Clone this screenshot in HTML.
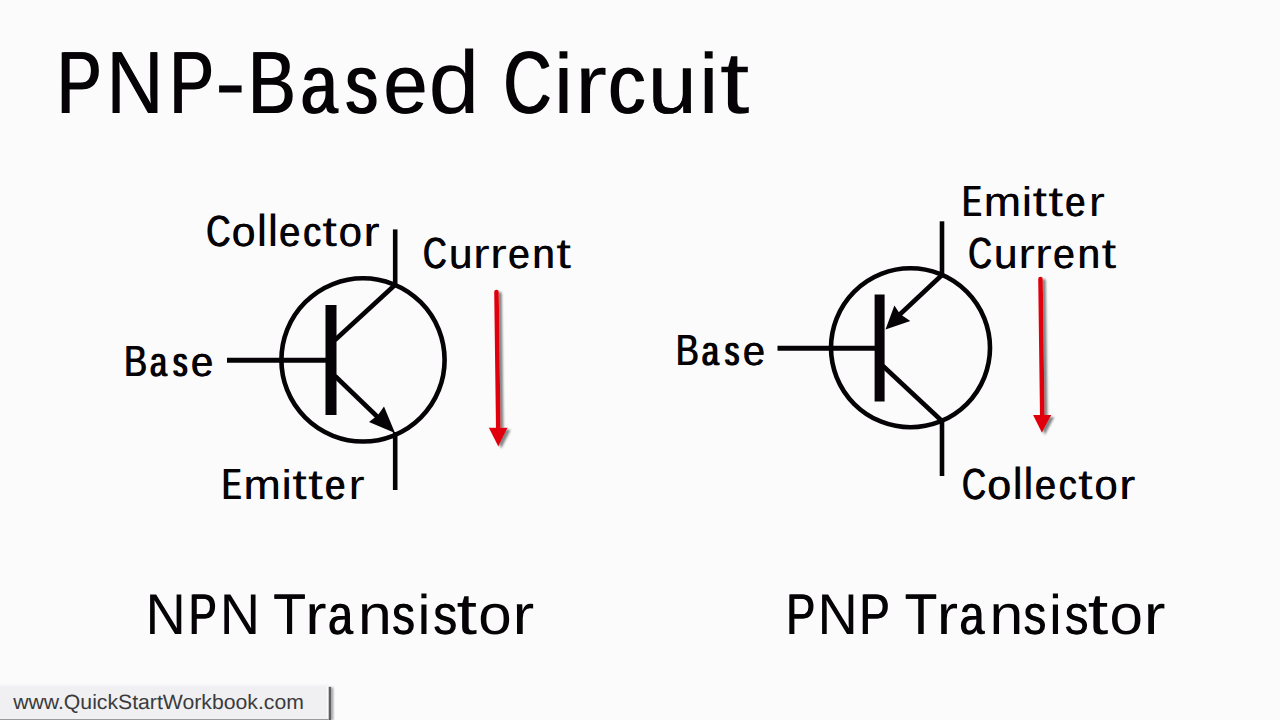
<!DOCTYPE html>
<html><head><meta charset="utf-8"><style>
html,body{margin:0;padding:0;background:#fcfbfc;}
body{width:1280px;height:720px;overflow:hidden;position:relative;}
svg{position:absolute;left:0;top:0;}
text{font-family:"Liberation Sans",sans-serif;fill:#050305;text-rendering:geometricPrecision;}
</style></head><body>
<svg width="1280" height="720" viewBox="0 0 1280 720">
<defs>
<filter id="sh" x="-50%" y="-50%" width="200%" height="200%">
<feGaussianBlur in="SourceAlpha" stdDeviation="1.2"/>
<feOffset dx="3" dy="2" result="b"/>
<feFlood flood-color="#6e7272" flood-opacity="0.85"/>
<feComposite in2="b" operator="in"/>
<feMerge><feMergeNode/><feMergeNode in="SourceGraphic"/></feMerge>
</filter>
<filter id="bl" x="-50%" y="-50%" width="200%" height="200%"><feGaussianBlur stdDeviation="0.8"/></filter>
<linearGradient id="wmg" x1="0" y1="0" x2="0" y2="1">
<stop offset="0" stop-color="#f8f7f9"/><stop offset="0.1" stop-color="#f0eff1"/><stop offset="1" stop-color="#f0eff1"/>
</linearGradient>
</defs>
<rect width="1280" height="720" fill="#fcfbfc"/>
<!-- NPN -->
<g stroke="#050305" fill="none" stroke-width="4.6">
<circle cx="363" cy="359.9" r="81.6"/>
<line x1="227" y1="360.2" x2="326" y2="360.2" stroke-width="5"/>
<line x1="395.2" y1="229.4" x2="395.2" y2="286"/>
<line x1="395.2" y1="432" x2="395.2" y2="490"/>
<line x1="335" y1="340" x2="396" y2="284"/>
<line x1="335" y1="376" x2="388" y2="427"/>
</g>
<rect x="325.5" y="305" width="11" height="110" fill="#050305"/>
<polygon points="395,433 384,406.5 378,415 369,422" fill="#050305"/>
<!-- PNP -->
<g stroke="#050305" fill="none" stroke-width="4.6">
<circle cx="910.5" cy="347.8" r="79.5"/>
<line x1="777.5" y1="348.2" x2="876" y2="348.2" stroke-width="5"/>
<line x1="942" y1="221.3" x2="942" y2="277"/>
<line x1="942" y1="419" x2="942" y2="476"/>
<line x1="943" y1="274" x2="895" y2="319"/>
<line x1="883" y1="366" x2="943" y2="422"/>
</g>
<rect x="874.6" y="294.5" width="10" height="107" fill="#050305"/>
<polygon points="885.5,329.5 894.4,305.6 900,314 910.3,321.1" fill="#050305"/>
<!-- red arrows -->
<g filter="url(#sh)" fill="#e0050f">
<path d="M496.5 292 L498.3 430" stroke="#e0050f" stroke-width="4.6" stroke-linecap="round"/>
<polygon points="488.9,427.7 507.6,427.7 498.3,446.5"/>
</g>
<g filter="url(#sh)" fill="#e0050f">
<path d="M1040.5 279 L1042.3 417" stroke="#e0050f" stroke-width="4.6" stroke-linecap="round"/>
<polygon points="1033.1,415 1051.3,415 1041.9,432.8"/>
</g>
<!-- watermark -->
<rect x="0" y="684" width="329" height="36" fill="url(#wmg)"/>
<rect x="326.8" y="686" width="1.8" height="33" fill="#fbfafc"/>
<rect x="0" y="717.8" width="328.6" height="1.1" fill="#fbfafc"/>
<rect x="330.6" y="687.5" width="2.6" height="33" fill="#98989a" filter="url(#bl)"/>
<rect x="328.7" y="686.8" width="2.4" height="33.2" fill="#5f5e62"/>
<rect x="0" y="718.9" width="328.7" height="1.1" fill="#9a9a9c"/>
<text transform="translate(56.34 112.80) scale(0.7350 0.9765)" font-size="90.5">P</text>
<text transform="translate(58.04 112.80) scale(0.7350 0.9765)" font-size="90.5">P</text>
<text transform="translate(106.08 112.80) scale(0.8786 0.9765)" font-size="90.5">N</text>
<text transform="translate(106.56 112.80) scale(0.8786 0.9765)" font-size="90.5">N</text>
<text transform="translate(168.64 112.80) scale(0.7350 0.9765)" font-size="90.5">P</text>
<text transform="translate(170.34 112.80) scale(0.7350 0.9765)" font-size="90.5">P</text>
<text transform="translate(214.91 112.80) scale(1.0183 1.0000)" font-size="90.5">-</text>
<text transform="translate(247.29 112.80) scale(0.7954 0.9765)" font-size="90.5">B</text>
<text transform="translate(248.48 112.80) scale(0.7954 0.9765)" font-size="90.5">B</text>
<text transform="translate(299.69 112.80) scale(0.7318 0.9307)" font-size="90.5">a</text>
<text transform="translate(301.77 112.80) scale(0.7318 0.9307)" font-size="90.5">a</text>
<text transform="translate(344.61 112.80) scale(0.7110 0.9307)" font-size="90.5">s</text>
<text transform="translate(346.85 112.80) scale(0.7110 0.9307)" font-size="90.5">s</text>
<text transform="translate(383.04 112.80) scale(0.8751 0.9307)" font-size="90.5">e</text>
<text transform="translate(383.98 112.80) scale(0.8751 0.9307)" font-size="90.5">e</text>
<text transform="translate(428.46 112.80) scale(1.0099 0.9836)" font-size="90.5">d</text>
<text transform="translate(502.73 112.80) scale(0.7325 0.9765)" font-size="90.5">C</text>
<text transform="translate(504.45 112.80) scale(0.7325 0.9765)" font-size="90.5">C</text>
<text transform="translate(553.49 112.80) scale(0.9932 0.9409)" font-size="90.5">i</text>
<text transform="translate(574.85 112.80) scale(1.0740 0.9307)" font-size="90.5">r</text>
<text transform="translate(607.53 112.80) scale(0.8241 0.9307)" font-size="90.5">c</text>
<text transform="translate(608.88 112.80) scale(0.8241 0.9307)" font-size="90.5">c</text>
<text transform="translate(647.68 112.80) scale(0.9741 0.9307)" font-size="90.5">u</text>
<text transform="translate(647.83 112.80) scale(0.9741 0.9307)" font-size="90.5">u</text>
<text transform="translate(698.74 112.80) scale(0.9932 0.9409)" font-size="90.5">i</text>
<text transform="translate(719.78 112.80) scale(1.1856 0.9691)" font-size="90.5">t</text>
<text transform="translate(145.62 633.70) scale(0.9765 1.0063)" font-size="57.2">N</text>
<text transform="translate(188.18 633.70) scale(0.7288 1.0063)" font-size="57.2">P</text>
<text transform="translate(189.39 633.70) scale(0.7288 1.0063)" font-size="57.2">P</text>
<text transform="translate(219.82 633.70) scale(0.9765 1.0063)" font-size="57.2">N</text>
<text transform="translate(273.20 633.70) scale(0.9368 1.0063)" font-size="57.2">T</text>
<text transform="translate(273.30 633.70) scale(0.9368 1.0063)" font-size="57.2">T</text>
<text transform="translate(305.25 633.70) scale(1.1189 0.9828)" font-size="57.2">r</text>
<text transform="translate(327.61 633.70) scale(0.7760 0.9828)" font-size="57.2">a</text>
<text transform="translate(328.81 633.70) scale(0.7760 0.9828)" font-size="57.2">a</text>
<text transform="translate(358.07 633.70) scale(1.0618 0.9828)" font-size="57.2">n</text>
<text transform="translate(391.75 633.70) scale(0.7834 0.9828)" font-size="57.2">s</text>
<text transform="translate(392.91 633.70) scale(0.7834 0.9828)" font-size="57.2">s</text>
<text transform="translate(417.52 633.70) scale(1.0145 0.9771)" font-size="57.2">i</text>
<text transform="translate(432.99 633.70) scale(0.8235 0.9828)" font-size="57.2">s</text>
<text transform="translate(433.95 633.70) scale(0.8235 0.9828)" font-size="57.2">s</text>
<text transform="translate(456.38 633.70) scale(1.2939 1.0222)" font-size="57.2">t</text>
<text transform="translate(478.17 633.70) scale(1.0515 0.9828)" font-size="57.2">o</text>
<text transform="translate(512.47 633.70) scale(1.1399 0.9828)" font-size="57.2">r</text>
<text transform="translate(785.83 633.70) scale(0.7607 1.0063)" font-size="57.2">P</text>
<text transform="translate(786.87 633.70) scale(0.7607 1.0063)" font-size="57.2">P</text>
<text transform="translate(817.62 633.70) scale(0.9765 1.0063)" font-size="57.2">N</text>
<text transform="translate(859.08 633.70) scale(0.7926 1.0063)" font-size="57.2">P</text>
<text transform="translate(859.95 633.70) scale(0.7926 1.0063)" font-size="57.2">P</text>
<text transform="translate(904.60 633.70) scale(0.9368 1.0063)" font-size="57.2">T</text>
<text transform="translate(904.70 633.70) scale(0.9368 1.0063)" font-size="57.2">T</text>
<text transform="translate(936.65 633.70) scale(1.1189 0.9828)" font-size="57.2">r</text>
<text transform="translate(959.01 633.70) scale(0.7760 0.9828)" font-size="57.2">a</text>
<text transform="translate(960.21 633.70) scale(0.7760 0.9828)" font-size="57.2">a</text>
<text transform="translate(989.47 633.70) scale(1.0618 0.9828)" font-size="57.2">n</text>
<text transform="translate(1023.15 633.70) scale(0.7834 0.9828)" font-size="57.2">s</text>
<text transform="translate(1024.31 633.70) scale(0.7834 0.9828)" font-size="57.2">s</text>
<text transform="translate(1048.92 633.70) scale(1.0145 0.9771)" font-size="57.2">i</text>
<text transform="translate(1064.39 633.70) scale(0.8235 0.9828)" font-size="57.2">s</text>
<text transform="translate(1065.35 633.70) scale(0.8235 0.9828)" font-size="57.2">s</text>
<text transform="translate(1087.78 633.70) scale(1.2939 1.0222)" font-size="57.2">t</text>
<text transform="translate(1109.57 633.70) scale(1.0515 0.9828)" font-size="57.2">o</text>
<text transform="translate(1143.87 633.70) scale(1.1399 0.9828)" font-size="57.2">r</text>
<text transform="translate(205.71 245.90) scale(0.7541 0.9865)" font-size="44.2">C</text>
<text transform="translate(206.90 245.90) scale(0.7541 0.9865)" font-size="44.2">C</text>
<text transform="translate(231.41 245.90) scale(0.9656 0.9378)" font-size="44.2">o</text>
<text transform="translate(231.96 245.90) scale(0.9656 0.9378)" font-size="44.2">o</text>
<text transform="translate(256.50 245.90) scale(1.1069 1.0147)" font-size="44.2">l</text>
<text transform="translate(267.40 245.90) scale(1.1069 1.0147)" font-size="44.2">l</text>
<text transform="translate(278.80 245.90) scale(0.8543 0.9378)" font-size="44.2">e</text>
<text transform="translate(279.78 245.90) scale(0.8543 0.9378)" font-size="44.2">e</text>
<text transform="translate(302.70 245.90) scale(0.7975 0.9378)" font-size="44.2">c</text>
<text transform="translate(303.90 245.90) scale(0.7975 0.9378)" font-size="44.2">c</text>
<text transform="translate(322.19 245.90) scale(1.2049 0.9624)" font-size="44.2">t</text>
<text transform="translate(338.45 245.90) scale(0.9420 0.9378)" font-size="44.2">o</text>
<text transform="translate(339.09 245.90) scale(0.9420 0.9378)" font-size="44.2">o</text>
<text transform="translate(363.50 245.90) scale(1.0886 0.9378)" font-size="44.2">r</text>
<text transform="translate(363.58 245.90) scale(1.0886 0.9378)" font-size="44.2">r</text>
<text transform="translate(961.41 498.75) scale(0.7541 0.9865)" font-size="44.2">C</text>
<text transform="translate(962.60 498.75) scale(0.7541 0.9865)" font-size="44.2">C</text>
<text transform="translate(987.11 498.75) scale(0.9656 0.9378)" font-size="44.2">o</text>
<text transform="translate(987.66 498.75) scale(0.9656 0.9378)" font-size="44.2">o</text>
<text transform="translate(1012.20 498.75) scale(1.1069 1.0147)" font-size="44.2">l</text>
<text transform="translate(1023.10 498.75) scale(1.1069 1.0147)" font-size="44.2">l</text>
<text transform="translate(1034.50 498.75) scale(0.8543 0.9378)" font-size="44.2">e</text>
<text transform="translate(1035.48 498.75) scale(0.8543 0.9378)" font-size="44.2">e</text>
<text transform="translate(1058.40 498.75) scale(0.7975 0.9378)" font-size="44.2">c</text>
<text transform="translate(1059.60 498.75) scale(0.7975 0.9378)" font-size="44.2">c</text>
<text transform="translate(1077.89 498.75) scale(1.2049 0.9624)" font-size="44.2">t</text>
<text transform="translate(1094.15 498.75) scale(0.9420 0.9378)" font-size="44.2">o</text>
<text transform="translate(1094.79 498.75) scale(0.9420 0.9378)" font-size="44.2">o</text>
<text transform="translate(1119.20 498.75) scale(1.0886 0.9378)" font-size="44.2">r</text>
<text transform="translate(1119.28 498.75) scale(1.0886 0.9378)" font-size="44.2">r</text>
<text transform="translate(221.60 498.90) scale(0.6353 0.9865)" font-size="44.2">E</text>
<text transform="translate(223.28 498.90) scale(0.6353 0.9865)" font-size="44.2">E</text>
<text transform="translate(243.44 498.90) scale(1.0079 0.9378)" font-size="44.2">m</text>
<text transform="translate(243.83 498.90) scale(1.0079 0.9378)" font-size="44.2">m</text>
<text transform="translate(281.33 498.90) scale(1.1069 0.9367)" font-size="44.2">i</text>
<text transform="translate(292.21 498.90) scale(1.1872 0.9624)" font-size="44.2">t</text>
<text transform="translate(308.08 498.90) scale(1.2226 0.9624)" font-size="44.2">t</text>
<text transform="translate(324.56 498.90) scale(0.8217 0.9378)" font-size="44.2">e</text>
<text transform="translate(325.67 498.90) scale(0.8217 0.9378)" font-size="44.2">e</text>
<text transform="translate(348.53 498.90) scale(1.0956 0.9378)" font-size="44.2">r</text>
<text transform="translate(961.80 215.80) scale(0.6353 0.9865)" font-size="44.2">E</text>
<text transform="translate(963.48 215.80) scale(0.6353 0.9865)" font-size="44.2">E</text>
<text transform="translate(983.64 215.80) scale(1.0079 0.9378)" font-size="44.2">m</text>
<text transform="translate(984.03 215.80) scale(1.0079 0.9378)" font-size="44.2">m</text>
<text transform="translate(1021.53 215.80) scale(1.1069 0.9367)" font-size="44.2">i</text>
<text transform="translate(1032.41 215.80) scale(1.1872 0.9624)" font-size="44.2">t</text>
<text transform="translate(1048.28 215.80) scale(1.2226 0.9624)" font-size="44.2">t</text>
<text transform="translate(1064.76 215.80) scale(0.8217 0.9378)" font-size="44.2">e</text>
<text transform="translate(1065.87 215.80) scale(0.8217 0.9378)" font-size="44.2">e</text>
<text transform="translate(1088.73 215.80) scale(1.0956 0.9378)" font-size="44.2">r</text>
<text transform="translate(422.60 267.80) scale(0.7352 0.9865)" font-size="44.2">C</text>
<text transform="translate(423.87 267.80) scale(0.7352 0.9865)" font-size="44.2">C</text>
<text transform="translate(448.66 267.80) scale(0.9536 0.9378)" font-size="44.2">u</text>
<text transform="translate(449.26 267.80) scale(0.9536 0.9378)" font-size="44.2">u</text>
<text transform="translate(473.08 267.80) scale(1.1312 0.9378)" font-size="44.2">r</text>
<text transform="translate(489.95 267.80) scale(1.1403 0.9378)" font-size="44.2">r</text>
<text transform="translate(507.64 267.80) scale(0.8840 0.9378)" font-size="44.2">e</text>
<text transform="translate(508.51 267.80) scale(0.8840 0.9378)" font-size="44.2">e</text>
<text transform="translate(532.12 267.80) scale(0.9133 0.9378)" font-size="44.2">n</text>
<text transform="translate(532.87 267.80) scale(0.9133 0.9378)" font-size="44.2">n</text>
<text transform="translate(556.29 267.80) scale(1.2049 0.9624)" font-size="44.2">t</text>
<text transform="translate(967.70 267.60) scale(0.7352 0.9865)" font-size="44.2">C</text>
<text transform="translate(968.97 267.60) scale(0.7352 0.9865)" font-size="44.2">C</text>
<text transform="translate(993.76 267.60) scale(0.9536 0.9378)" font-size="44.2">u</text>
<text transform="translate(994.36 267.60) scale(0.9536 0.9378)" font-size="44.2">u</text>
<text transform="translate(1018.18 267.60) scale(1.1312 0.9378)" font-size="44.2">r</text>
<text transform="translate(1035.05 267.60) scale(1.1403 0.9378)" font-size="44.2">r</text>
<text transform="translate(1052.74 267.60) scale(0.8840 0.9378)" font-size="44.2">e</text>
<text transform="translate(1053.61 267.60) scale(0.8840 0.9378)" font-size="44.2">e</text>
<text transform="translate(1077.22 267.60) scale(0.9133 0.9378)" font-size="44.2">n</text>
<text transform="translate(1077.97 267.60) scale(0.9133 0.9378)" font-size="44.2">n</text>
<text transform="translate(1101.39 267.60) scale(1.2049 0.9624)" font-size="44.2">t</text>
<text transform="translate(123.40 376.40) scale(0.7860 0.9865)" font-size="44.2">B</text>
<text transform="translate(124.46 376.40) scale(0.7860 0.9865)" font-size="44.2">B</text>
<text transform="translate(149.21 376.40) scale(0.6855 0.9378)" font-size="44.2">a</text>
<text transform="translate(150.85 376.40) scale(0.6855 0.9378)" font-size="44.2">a</text>
<text transform="translate(172.32 376.40) scale(0.6369 0.9378)" font-size="44.2">s</text>
<text transform="translate(174.14 376.40) scale(0.6369 0.9378)" font-size="44.2">s</text>
<text transform="translate(190.61 376.40) scale(0.9018 0.9378)" font-size="44.2">e</text>
<text transform="translate(191.40 376.40) scale(0.9018 0.9378)" font-size="44.2">e</text>
<text transform="translate(675.20 364.70) scale(0.7860 0.9865)" font-size="44.2">B</text>
<text transform="translate(676.26 364.70) scale(0.7860 0.9865)" font-size="44.2">B</text>
<text transform="translate(701.01 364.70) scale(0.6855 0.9378)" font-size="44.2">a</text>
<text transform="translate(702.65 364.70) scale(0.6855 0.9378)" font-size="44.2">a</text>
<text transform="translate(724.12 364.70) scale(0.6369 0.9378)" font-size="44.2">s</text>
<text transform="translate(725.94 364.70) scale(0.6369 0.9378)" font-size="44.2">s</text>
<text transform="translate(742.41 364.70) scale(0.9018 0.9378)" font-size="44.2">e</text>
<text transform="translate(743.20 364.70) scale(0.9018 0.9378)" font-size="44.2">e</text>
<text transform="translate(13.18 708.83) scale(1.0250 1)" font-size="20.7" style="fill:#3b3b3d">www.QuickStartWorkbook.com</text>
</svg>
</body></html>
